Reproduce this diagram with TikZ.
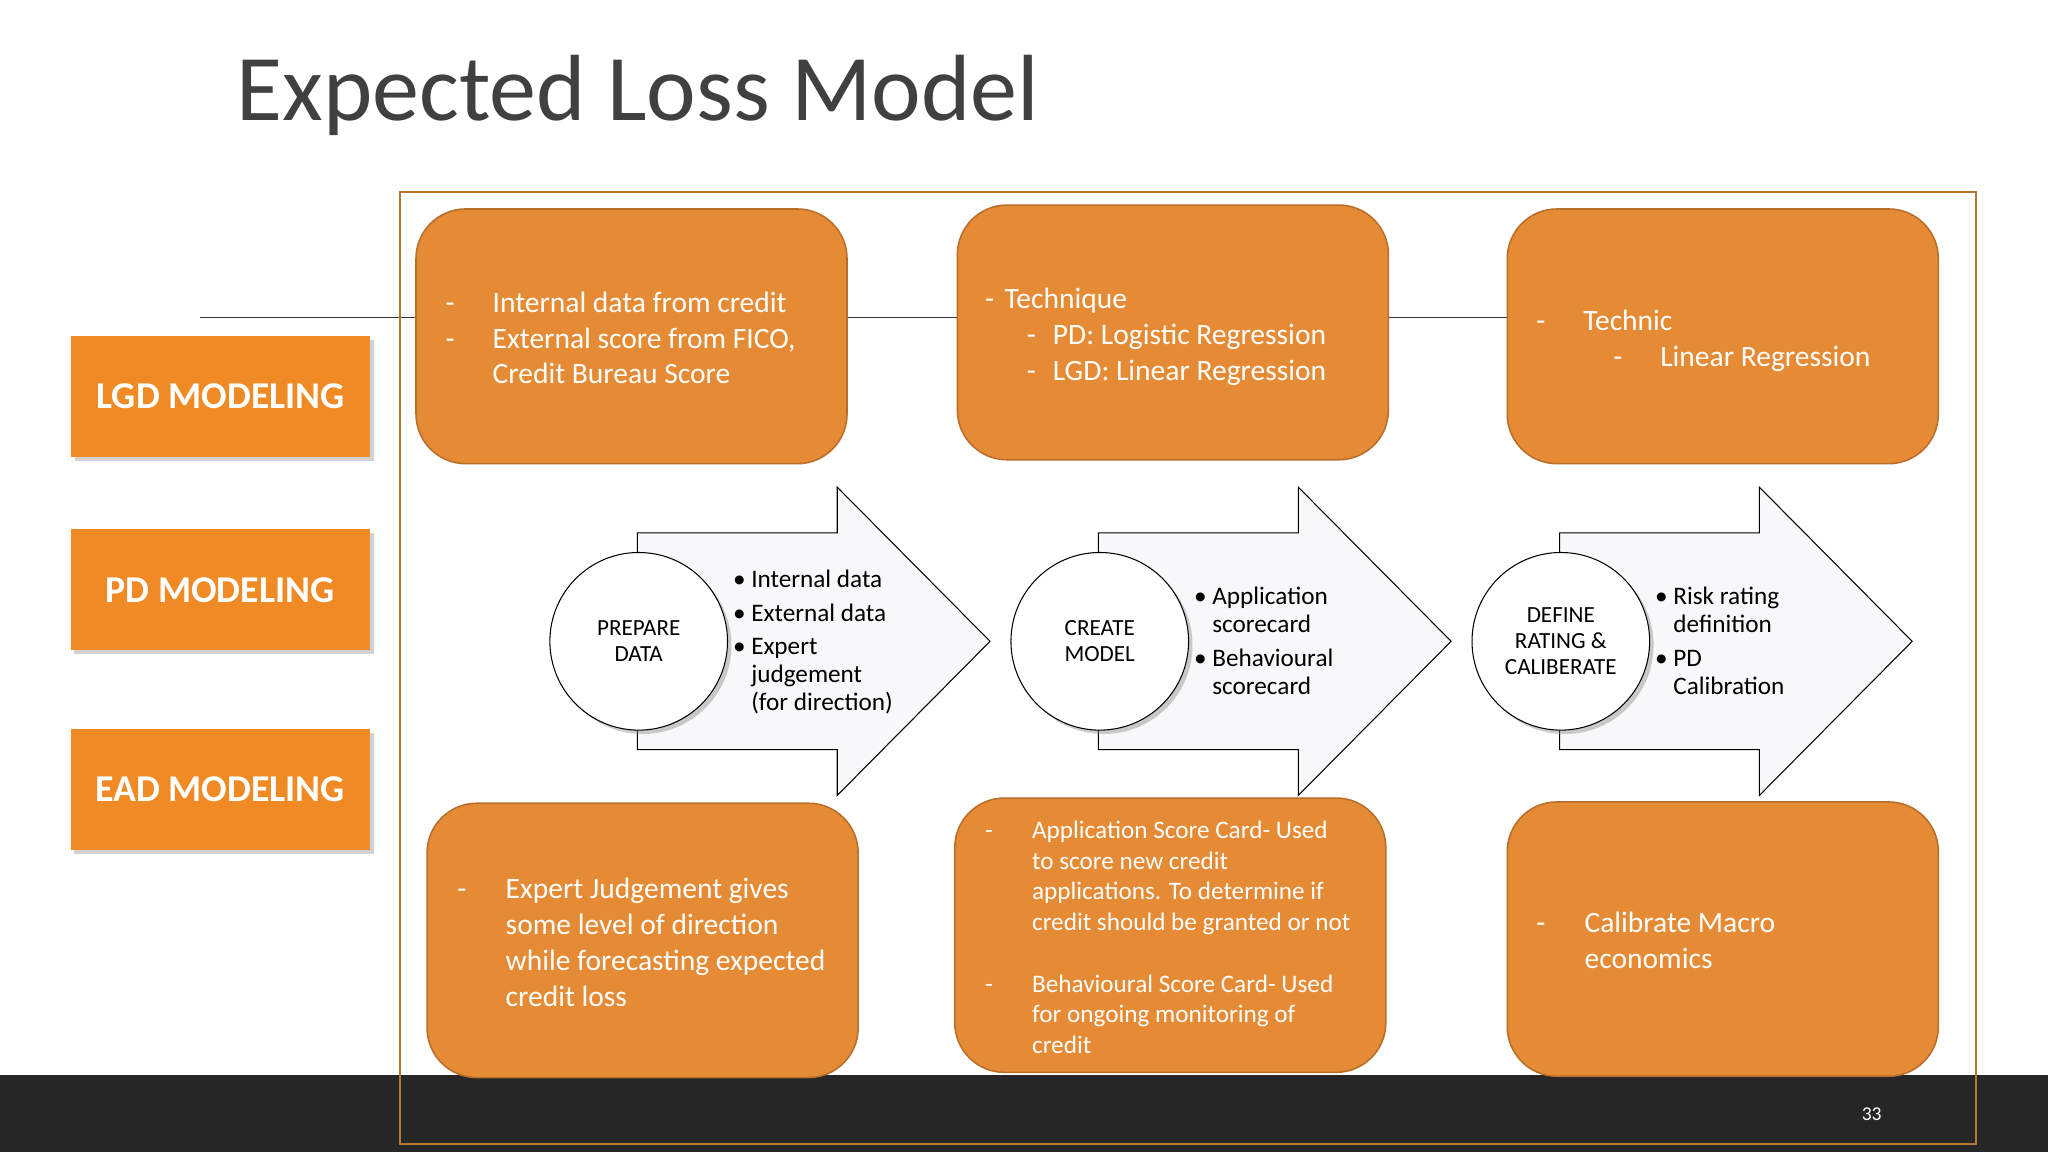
\documentclass[tikz,border=0pt]{standalone}
\usepackage{fontspec}
\setmainfont{Carlito}
\usetikzlibrary{shadows}
\definecolor{boxor}{HTML}{E68B35}
\definecolor{boxedge}{HTML}{B96E2A}
\definecolor{leftor}{HTML}{F08A24}
\definecolor{frameor}{HTML}{B8742E}
\definecolor{titlegray}{HTML}{404040}
\definecolor{barcol}{HTML}{262626}
\definecolor{arrowfill}{HTML}{F8F8FA}
\definecolor{linegray}{HTML}{3A3A3A}
\newcommand\fsz[2]{\fontsize{#1}{#2}\selectfont}
\newcommand\dl[2]{\makebox[#1][l]{-}#2}
\newcommand\il[2]{\hspace*{#1}#2}
\newcommand\bl[2]{\makebox[#1][l]{•}#2}
\begin{document}
\begin{tikzpicture}[x=1pt,y=-1pt,
  rbox/.style={draw=boxedge, line width=1.2pt, fill=boxor, rounded corners=38pt, minimum width=330pt, minimum height=195pt, inner sep=0pt},
  lbox/.style={fill=leftor, minimum width=229pt, minimum height=93pt, inner sep=0pt, text=white, font=\bfseries\fsz{29}{34}, drop shadow={shadow xshift=3pt, shadow yshift=-3pt, opacity=0.35}},
  circ/.style={circle, draw=black, line width=0.8pt, fill=white, minimum size=136pt, inner sep=0pt, align=center, font=\fsz{17.7}{20}, drop shadow={shadow xshift=3pt, shadow yshift=-3pt, opacity=0.4}},
  btext/.style={anchor=base west, inner sep=0pt, text=white},
  atext/.style={anchor=base west, inner sep=0pt, text=black, font=\fsz{19.3}{21.5}},
  blockarrow/.style={draw=black, line width=0.8pt, fill=arrowfill},
  conn/.style={linegray, line width=1.3pt},
]
\useasboundingbox (0,0) rectangle (1568,882);
\fill[white] (0,0) rectangle (1568,882);
% bottom bar
\fill[barcol] (0,823) rectangle (1568,882);
% title
\node[anchor=base west, inner sep=0pt, text=titlegray, font=\fsz{72}{80}] (title) at (181,92) {Expected Loss Model};
% left boxes
\node[lbox] (lgd) at (169,303.5) {LGD MODELING};
\node[lbox] (pd) at (168.5,451.5) {PD MODELING};
\node[lbox] (ead) at (168.5,604.5) {EAD MODELING};
% top boxes
\node[rbox] (t1) at (483.5,257.5) {};
\node[rbox] (t2) at (898,254.5) {};
\node[rbox] (t3) at (1319,257.5) {};
% connectors
\coordinate (start) at (153,243);
\draw[conn] (start) -- (start -| t1.west);
\draw[conn] (start -| t1.east) -- (start -| t2.west);
\draw[conn] (start -| t2.east) -- (start -| t3.west);
% bottom boxes
\node[rbox, minimum height=210pt] (b1) at (492,720) {};
\node[rbox, minimum height=210pt] (b2) at (896,716) {};
\node[rbox, minimum height=210pt] (b3) at (1319,719) {};
% texts in top boxes
\node[btext, font=\fsz{22.6}{27.5}] (t1txt) at (341,239) {\begin{tabular}[t]{@{}l@{}}\dl{36pt}{Internal data from credit}\\ \dl{36pt}{External score from FICO,}\\ \il{36pt}{Credit Bureau Score}\end{tabular}};
\node[btext, font=\fsz{22.6}{27.5}] (t2txt) at (754,236) {\begin{tabular}[t]{@{}l@{}}\dl{15pt}{Technique}\\ \il{32pt}{\dl{20pt}{PD: Logistic Regression}}\\ \il{32pt}{\dl{20pt}{LGD: Linear Regression}}\end{tabular}};
\node[btext, font=\fsz{22.6}{27.5}] (t3txt) at (1176,253) {\begin{tabular}[t]{@{}l@{}}\dl{36pt}{Technic}\\ \il{59pt}{\dl{36pt}{Linear Regression}}\end{tabular}};
% texts in bottom boxes
\node[btext, font=\fsz{22.6}{27.5}] (b1txt) at (350,688) {\begin{tabular}[t]{@{}l@{}}\dl{37pt}{Expert Judgement gives}\\ \il{37pt}{some level of direction}\\ \il{37pt}{while forecasting expected}\\ \il{37pt}{credit loss}\end{tabular}};
\node[btext, font=\fsz{19.3}{23.5}] (b2txt) at (754,642) {\begin{tabular}[t]{@{}l@{}}\dl{36pt}{Application Score Card- Used}\\ \il{36pt}{to score new credit}\\ \il{36pt}{applications. To determine if}\\ \il{36pt}{credit should be granted or not}\\[23.5pt] \dl{36pt}{Behavioural Score Card- Used}\\ \il{36pt}{for ongoing monitoring of}\\ \il{36pt}{credit}\end{tabular}};
\node[btext, font=\fsz{22.6}{27.5}] (b3txt) at (1176,714) {\begin{tabular}[t]{@{}l@{}}\dl{37pt}{Calibrate Macro}\\ \il{37pt}{economics}\end{tabular}};
% block arrows
\draw[blockarrow] (488,408) -- (641,408) -- (641,373) -- (758,491) -- (641,609) -- (641,574) -- (488,574) -- cycle;
\draw[blockarrow] (841,408) -- (994,408) -- (994,373) -- (1111,491) -- (994,609) -- (994,574) -- (841,574) -- cycle;
\draw[blockarrow] (1194,408) -- (1347,408) -- (1347,373) -- (1464,491) -- (1347,609) -- (1347,574) -- (1194,574) -- cycle;
% circles
\node[circ] (c1) at (489,491) {PREPARE\\DATA};
\node[circ] (c2) at (842,491) {CREATE\\MODEL};
\node[circ] (c3) at (1195,491) {DEFINE\\RATING \&\\CALIBERATE};
% arrow texts
\node[atext] (a1txt) at (561,450) {\begin{tabular}[t]{@{}l@{}}\bl{14pt}{Internal data}\\[4pt] \bl{14pt}{External data}\\[4pt] \bl{14pt}{Expert}\\ \il{14pt}{judgement}\\ \il{14pt}{(for direction)}\end{tabular}};
\node[atext] (a2txt) at (914,463) {\begin{tabular}[t]{@{}l@{}}\bl{14pt}{Application}\\ \il{14pt}{scorecard}\\[4pt] \bl{14pt}{Behavioural}\\ \il{14pt}{scorecard}\end{tabular}};
\node[atext] (a3txt) at (1267,463) {\begin{tabular}[t]{@{}l@{}}\bl{14pt}{Risk rating}\\ \il{14pt}{definition}\\[4pt] \bl{14pt}{PD}\\ \il{14pt}{Calibration}\end{tabular}};
% frame
\draw[frameor, line width=1.5pt] (306,147) rectangle (1513,876);
% page number
\node[text=white, font=\fsz{15}{17}, inner sep=0pt] (pg) at (1433,853) {33};
\end{tikzpicture}
\end{document}
